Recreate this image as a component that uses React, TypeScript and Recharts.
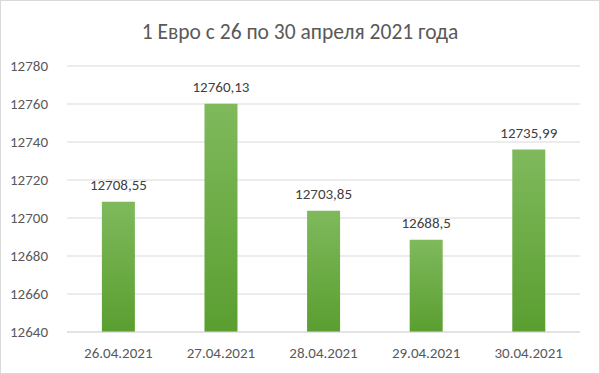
import React from "react";
import { BarChart, Bar, XAxis, YAxis, CartesianGrid, LabelList } from "recharts";

const dates = ["26.04.2021", "27.04.2021", "28.04.2021", "29.04.2021", "30.04.2021"];
const rates = [12708.55, 12760.13, 12703.85, 12688.5, 12735.99];
const rateLabels = ["12708,55", "12760,13", "12703,85", "12688,5", "12735,99"];
const yTicks = [12640, 12660, 12680, 12700, 12720, 12740, 12760, 12780];
const title = "1 Евро с 26 по 30 апреля 2021 года";

const data = dates.map((d, i) => ({ date: d, value: rates[i], label: rateLabels[i] }));

const FONT = "Carlito, Calibri, 'Open Sans', sans-serif";

export default function App() {
  return (
    <div style={{ position: "absolute", left: 0, top: 0, width: 600, height: 374, background: "#fff", fontFamily: FONT }}>
      <div style={{ position: "absolute", left: 0, top: 0, width: 598, height: 372, border: "1px solid #d9d9d9" }} />
      <div style={{ position: "absolute", left: 0, top: 19, width: 600, textAlign: "center", fontSize: 21.5, color: "#595959" }}>
        {title}
      </div>
      <BarChart width={600} height={374} data={data} margin={{ top: 66, right: 20, bottom: 20, left: 0 }} barCategoryGap="34%">
        <defs>
          <linearGradient id="barGrad" x1="0" y1="0" x2="0" y2="1">
            <stop offset="0%" stopColor="#7fb95c" />
            <stop offset="100%" stopColor="#5a9e30" />
          </linearGradient>
        </defs>
        <CartesianGrid vertical={false} stroke="#d9d9d9" strokeWidth={1} />
        <XAxis dataKey="date" axisLine={{ stroke: "#d9d9d9" }} tickLine={false} tick={{ fill: "#595959", fontSize: 15, fontFamily: FONT }} tickMargin={9} height={22} />
        <YAxis domain={[12640, 12780]} ticks={yTicks} axisLine={false} tickLine={false} width={67} tickMargin={13} tick={{ fill: "#595959", fontSize: 15, fontFamily: FONT }} />
        <Bar dataKey="value" fill="url(#barGrad)" isAnimationActive={false}>
          <LabelList dataKey="label" position="top" offset={12} style={{ fill: "#404040", fontSize: 15, fontFamily: FONT }} />
        </Bar>
      </BarChart>
    </div>
  );
}
